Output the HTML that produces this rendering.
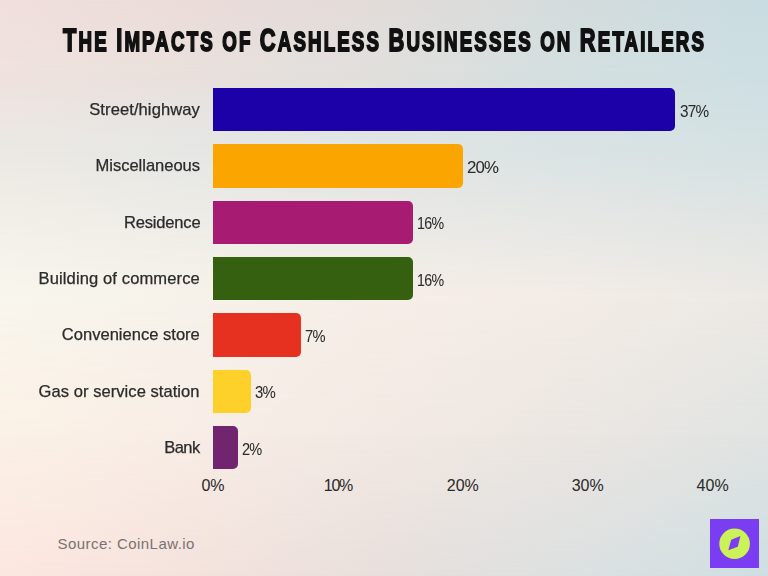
<!DOCTYPE html>
<html><head><meta charset="utf-8">
<style>
html,body{margin:0;padding:0;}
body{width:768px;height:576px;overflow:hidden;position:relative;font-family:"Liberation Sans",sans-serif;
background:#f3eee8;}
.bg{position:absolute;left:0;top:0;width:768px;height:576px;}
.title{position:absolute;left:63px;top:18.2px;height:44px;line-height:44px;white-space:nowrap;color:#111;font-weight:bold;transform-origin:0 0;transform:scaleX(0.68);-webkit-text-stroke:1.9px #111;letter-spacing:3.16px;}
.bar{position:absolute;left:213px;height:43.6px;border-radius:0 5px 5px 0;}
.lbl{position:absolute;right:568px;font-size:15.7px;transform:scaleX(1.055);transform-origin:100% 50%;color:#2b2b2b;-webkit-text-stroke:0.25px #2b2b2b;white-space:nowrap;line-height:20px;}
.val{position:absolute;font-size:16px;letter-spacing:-0.8px;transform-origin:0 50%;color:#2b2b2b;-webkit-text-stroke:0.05px #2b2b2b;white-space:nowrap;line-height:20px;}
.ax{position:absolute;top:475.6px;font-size:16px;color:#2b2b2b;-webkit-text-stroke:0.05px #2b2b2b;white-space:nowrap;line-height:20px;width:60px;text-align:center;margin-left:-30px;}
.src{position:absolute;left:57.5px;top:533.5px;font-size:15px;letter-spacing:0.45px;color:#7a7272;white-space:nowrap;line-height:20px;}
.logo{position:absolute;left:710px;top:519px;width:49px;height:49px;background:#7b3df2;}
</style></head><body>
<div class="bg" style="background:linear-gradient(to right,#f1dfdd,#ebdcda,#e2dcd9,#d4dcdd,#c9dce1)"></div>
<div class="bg" style="background:linear-gradient(to right,#efe2df,#e9e0dc,#e0dfdc,#d3dfe0,#cddfe3);-webkit-mask-image:linear-gradient(to bottom,transparent 0px,#000 72px);mask-image:linear-gradient(to bottom,transparent 0px,#000 72px)"></div>
<div class="bg" style="background:linear-gradient(to right,#ebe8e3,#e6e7e4,#dfe4e3,#d9e3e4,#d4e1e3);-webkit-mask-image:linear-gradient(to bottom,transparent 72px,#000 144px);mask-image:linear-gradient(to bottom,transparent 72px,#000 144px)"></div>
<div class="bg" style="background:linear-gradient(to right,#f9f6ed,#f6f2ea,#f6eee7,#f3ece6,#ece9e4);-webkit-mask-image:linear-gradient(to bottom,transparent 144px,#000 300px);mask-image:linear-gradient(to bottom,transparent 144px,#000 300px)"></div>
<div class="bg" style="background:linear-gradient(to right,#fbf1e6,#f8ede6,#f2e9e3,#ebe6e2,#e0e4e2);-webkit-mask-image:linear-gradient(to bottom,transparent 300px,#000 435px);mask-image:linear-gradient(to bottom,transparent 300px,#000 435px)"></div>
<div class="bg" style="background:linear-gradient(to right,#fce6e0,#f4e2dc,#e7dfdc,#dbe0e0,#cfdee2);-webkit-mask-image:linear-gradient(to bottom,transparent 435px,#000 576px);mask-image:linear-gradient(to bottom,transparent 435px,#000 576px)"></div>
<div class="title" id="title"><span style="font-size:32.2px">T</span><span style="font-size:27.5px">HE </span><span style="font-size:32.2px">I</span><span style="font-size:27.5px">MPACTS OF </span><span style="font-size:32.2px">C</span><span style="font-size:27.5px">ASHLESS </span><span style="font-size:32.2px">B</span><span style="font-size:27.5px">USINESSES ON </span><span style="font-size:32.2px">R</span><span style="font-size:27.5px">ETAILERS</span></div>

<div class="bar" style="top:87.8px;width:462px;background:#1c00a8"></div>
<div class="bar" style="top:144.1px;width:250px;background:#fba500"></div>
<div class="bar" style="top:200.5px;width:200px;background:#a81b73"></div>
<div class="bar" style="top:256.8px;width:200px;background:#346010"></div>
<div class="bar" style="top:313.1px;width:87.5px;background:#e63020"></div>
<div class="bar" style="top:369.5px;width:37.5px;background:#fdd12a"></div>
<div class="bar" style="top:425.8px;width:25px;background:#72256f"></div>

<div class="lbl" style="top:99.9px;letter-spacing:0.08px">Street/highway</div>
<div class="lbl" style="top:156.2px;letter-spacing:-0.03px">Miscellaneous</div>
<div class="lbl" style="top:212.6px;letter-spacing:-0.19px">Residence</div>
<div class="lbl" style="top:268.9px;letter-spacing:0.1px">Building of commerce</div>
<div class="lbl" style="top:325.2px">Convenience store</div>
<div class="lbl" style="top:381.6px;letter-spacing:0.04px">Gas or service station</div>
<div class="lbl" style="top:437.9px;letter-spacing:-0.5px">Bank</div>

<div class="val" style="left:680px;top:101.5px;transform:scaleX(0.958)">37%</div>
<div class="val" style="left:467px;top:157.8px;transform:scaleX(1.05)">20%</div>
<div class="val" style="left:417px;top:214.2px;transform:scaleX(0.889)">16%</div>
<div class="val" style="left:417px;top:270.5px;transform:scaleX(0.889)">16%</div>
<div class="val" style="left:305px;top:326.8px;transform:scaleX(0.918)">7%</div>
<div class="val" style="left:255px;top:383.2px;transform:scaleX(0.932)">3%</div>
<div class="val" style="left:242px;top:439.5px;transform:scaleX(0.909)">2%</div>

<div class="ax" style="left:213px">0%</div>
<div class="ax" style="left:337.9px;letter-spacing:-1.3px">10%</div>
<div class="ax" style="left:462.8px">20%</div>
<div class="ax" style="left:587.7px">30%</div>
<div class="ax" style="left:712.6px">40%</div>

<div class="src">Source: CoinLaw.io</div>

<div class="logo">
<svg width="49" height="49" viewBox="0 0 49 49" style="position:absolute;left:0;top:0">
<circle cx="24.6" cy="24.8" r="15.3" fill="#ccf25a"/>
<path d="M30.4 17.1 L27.8 27.8 L18.3 31.3 L21.2 20.8 Z" fill="#7b3df2"/>
</svg>
</div>
</body></html>
